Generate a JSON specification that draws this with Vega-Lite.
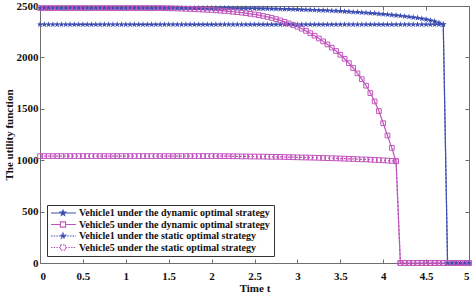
{
  "$schema": "https://vega.github.io/schema/vega-lite/v6.json",
  "width": 429,
  "height": 257,
  "autosize": {"type": "none"},
  "padding": {"left": 40, "top": 6, "right": 5, "bottom": 31},
  "background": "white",
  "config": {
    "font": "Liberation Serif",
    "view": {"stroke": "#6e6e6e"},
    "axis": {
      "grid": false,
      "domain": false,
      "labelFont": "Liberation Serif",
      "labelFontWeight": "bold",
      "labelFontSize": 11,
      "labelColor": "#111111",
      "titleFont": "Liberation Serif",
      "titleFontWeight": "bold",
      "titleFontSize": 11,
      "titleColor": "#111111",
      "tickColor": "#6e6e6e",
      "tickSize": -4
    }
  },
  "data": {
    "values": [
      {"t":0,"u":2480,"s":"v1d"},{"t":0.05,"u":2480,"s":"v1d"},{"t":0.1,"u":2480,"s":"v1d"},{"t":0.15,"u":2480,"s":"v1d"},{"t":0.2,"u":2480,"s":"v1d"},{"t":0.25,"u":2480,"s":"v1d"},{"t":0.3,"u":2480,"s":"v1d"},{"t":0.35,"u":2480,"s":"v1d"},{"t":0.4,"u":2480,"s":"v1d"},{"t":0.45,"u":2480,"s":"v1d"},
      {"t":0.5,"u":2480,"s":"v1d"},{"t":0.55,"u":2480,"s":"v1d"},{"t":0.6,"u":2480,"s":"v1d"},{"t":0.65,"u":2480,"s":"v1d"},{"t":0.7,"u":2480,"s":"v1d"},{"t":0.75,"u":2480,"s":"v1d"},{"t":0.8,"u":2480,"s":"v1d"},{"t":0.85,"u":2480,"s":"v1d"},{"t":0.9,"u":2480,"s":"v1d"},{"t":0.95,"u":2480,"s":"v1d"},
      {"t":1,"u":2480,"s":"v1d"},{"t":1.05,"u":2480,"s":"v1d"},{"t":1.1,"u":2480,"s":"v1d"},{"t":1.15,"u":2480,"s":"v1d"},{"t":1.2,"u":2480,"s":"v1d"},{"t":1.25,"u":2480,"s":"v1d"},{"t":1.3,"u":2480,"s":"v1d"},{"t":1.35,"u":2480,"s":"v1d"},{"t":1.4,"u":2480,"s":"v1d"},{"t":1.45,"u":2480,"s":"v1d"},
      {"t":1.5,"u":2480,"s":"v1d"},{"t":1.55,"u":2480,"s":"v1d"},{"t":1.6,"u":2480,"s":"v1d"},{"t":1.65,"u":2480,"s":"v1d"},{"t":1.7,"u":2480,"s":"v1d"},{"t":1.75,"u":2480,"s":"v1d"},{"t":1.8,"u":2480,"s":"v1d"},{"t":1.85,"u":2480,"s":"v1d"},{"t":1.9,"u":2480,"s":"v1d"},{"t":1.95,"u":2480,"s":"v1d"},
      {"t":2,"u":2480,"s":"v1d"},{"t":2.05,"u":2480,"s":"v1d"},{"t":2.1,"u":2479,"s":"v1d"},{"t":2.15,"u":2479,"s":"v1d"},{"t":2.2,"u":2479,"s":"v1d"},{"t":2.25,"u":2478,"s":"v1d"},{"t":2.3,"u":2478,"s":"v1d"},{"t":2.35,"u":2477,"s":"v1d"},{"t":2.4,"u":2477,"s":"v1d"},{"t":2.45,"u":2476,"s":"v1d"},
      {"t":2.5,"u":2476,"s":"v1d"},{"t":2.55,"u":2475,"s":"v1d"},{"t":2.6,"u":2475,"s":"v1d"},{"t":2.65,"u":2474,"s":"v1d"},{"t":2.7,"u":2473,"s":"v1d"},{"t":2.75,"u":2472,"s":"v1d"},{"t":2.8,"u":2471,"s":"v1d"},{"t":2.85,"u":2470,"s":"v1d"},{"t":2.9,"u":2469,"s":"v1d"},{"t":2.95,"u":2468,"s":"v1d"},
      {"t":3,"u":2467,"s":"v1d"},{"t":3.05,"u":2465,"s":"v1d"},{"t":3.1,"u":2464,"s":"v1d"},{"t":3.15,"u":2462,"s":"v1d"},{"t":3.2,"u":2461,"s":"v1d"},{"t":3.25,"u":2459,"s":"v1d"},{"t":3.3,"u":2458,"s":"v1d"},{"t":3.35,"u":2456,"s":"v1d"},{"t":3.4,"u":2454,"s":"v1d"},{"t":3.45,"u":2452,"s":"v1d"},
      {"t":3.5,"u":2450,"s":"v1d"},{"t":3.55,"u":2447,"s":"v1d"},{"t":3.6,"u":2445,"s":"v1d"},{"t":3.65,"u":2442,"s":"v1d"},{"t":3.7,"u":2440,"s":"v1d"},{"t":3.75,"u":2437,"s":"v1d"},{"t":3.8,"u":2434,"s":"v1d"},{"t":3.85,"u":2431,"s":"v1d"},{"t":3.9,"u":2428,"s":"v1d"},{"t":3.95,"u":2424,"s":"v1d"},
      {"t":4,"u":2421,"s":"v1d"},{"t":4.05,"u":2417,"s":"v1d"},{"t":4.1,"u":2413,"s":"v1d"},{"t":4.15,"u":2409,"s":"v1d"},{"t":4.2,"u":2405,"s":"v1d"},{"t":4.25,"u":2400,"s":"v1d"},{"t":4.3,"u":2395,"s":"v1d"},{"t":4.35,"u":2390,"s":"v1d"},{"t":4.4,"u":2384,"s":"v1d"},{"t":4.45,"u":2377,"s":"v1d"},
      {"t":4.5,"u":2370,"s":"v1d"},{"t":4.55,"u":2361,"s":"v1d"},{"t":4.6,"u":2350,"s":"v1d"},{"t":4.65,"u":2337,"s":"v1d"},{"t":4.7,"u":2322,"s":"v1d"},{"t":4.75,"u":0,"s":"v1d"},{"t":4.8,"u":0,"s":"v1d"},{"t":4.85,"u":0,"s":"v1d"},{"t":4.9,"u":0,"s":"v1d"},{"t":4.95,"u":0,"s":"v1d"},
      {"t":5,"u":0,"s":"v1d"},

      {"t":0,"u":2480,"s":"v5d"},{"t":0.05,"u":2480,"s":"v5d"},{"t":0.1,"u":2480,"s":"v5d"},{"t":0.15,"u":2480,"s":"v5d"},{"t":0.2,"u":2480,"s":"v5d"},{"t":0.25,"u":2480,"s":"v5d"},{"t":0.3,"u":2480,"s":"v5d"},{"t":0.35,"u":2480,"s":"v5d"},{"t":0.4,"u":2480,"s":"v5d"},{"t":0.45,"u":2480,"s":"v5d"},
      {"t":0.5,"u":2480,"s":"v5d"},{"t":0.55,"u":2480,"s":"v5d"},{"t":0.6,"u":2480,"s":"v5d"},{"t":0.65,"u":2480,"s":"v5d"},{"t":0.7,"u":2480,"s":"v5d"},{"t":0.75,"u":2480,"s":"v5d"},{"t":0.8,"u":2480,"s":"v5d"},{"t":0.85,"u":2480,"s":"v5d"},{"t":0.9,"u":2480,"s":"v5d"},{"t":0.95,"u":2480,"s":"v5d"},
      {"t":1,"u":2480,"s":"v5d"},{"t":1.05,"u":2480,"s":"v5d"},{"t":1.1,"u":2480,"s":"v5d"},{"t":1.15,"u":2480,"s":"v5d"},{"t":1.2,"u":2480,"s":"v5d"},{"t":1.25,"u":2480,"s":"v5d"},{"t":1.3,"u":2480,"s":"v5d"},{"t":1.35,"u":2480,"s":"v5d"},{"t":1.4,"u":2480,"s":"v5d"},{"t":1.45,"u":2479,"s":"v5d"},
      {"t":1.5,"u":2478,"s":"v5d"},{"t":1.55,"u":2477,"s":"v5d"},{"t":1.6,"u":2476,"s":"v5d"},{"t":1.65,"u":2474,"s":"v5d"},{"t":1.7,"u":2473,"s":"v5d"},{"t":1.75,"u":2471,"s":"v5d"},{"t":1.8,"u":2469,"s":"v5d"},{"t":1.85,"u":2467,"s":"v5d"},{"t":1.9,"u":2465,"s":"v5d"},{"t":1.95,"u":2463,"s":"v5d"},
      {"t":2,"u":2461,"s":"v5d"},{"t":2.05,"u":2458,"s":"v5d"},{"t":2.1,"u":2455,"s":"v5d"},{"t":2.15,"u":2452,"s":"v5d"},{"t":2.2,"u":2448,"s":"v5d"},{"t":2.25,"u":2444,"s":"v5d"},{"t":2.3,"u":2440,"s":"v5d"},{"t":2.35,"u":2435,"s":"v5d"},{"t":2.4,"u":2430,"s":"v5d"},{"t":2.45,"u":2424,"s":"v5d"},
      {"t":2.5,"u":2418,"s":"v5d"},{"t":2.55,"u":2411,"s":"v5d"},{"t":2.6,"u":2403,"s":"v5d"},{"t":2.65,"u":2394,"s":"v5d"},{"t":2.7,"u":2384,"s":"v5d"},{"t":2.75,"u":2373,"s":"v5d"},{"t":2.8,"u":2360,"s":"v5d"},{"t":2.85,"u":2346,"s":"v5d"},{"t":2.9,"u":2331,"s":"v5d"},{"t":2.95,"u":2315,"s":"v5d"},
      {"t":3,"u":2298,"s":"v5d"},{"t":3.05,"u":2279,"s":"v5d"},{"t":3.1,"u":2258,"s":"v5d"},{"t":3.15,"u":2235,"s":"v5d"},{"t":3.2,"u":2211,"s":"v5d"},{"t":3.25,"u":2184,"s":"v5d"},{"t":3.3,"u":2156,"s":"v5d"},{"t":3.35,"u":2126,"s":"v5d"},{"t":3.4,"u":2095,"s":"v5d"},{"t":3.45,"u":2062,"s":"v5d"},
      {"t":3.5,"u":2026,"s":"v5d"},{"t":3.55,"u":1987,"s":"v5d"},{"t":3.6,"u":1944,"s":"v5d"},{"t":3.65,"u":1897,"s":"v5d"},{"t":3.7,"u":1845,"s":"v5d"},{"t":3.75,"u":1788,"s":"v5d"},{"t":3.8,"u":1725,"s":"v5d"},{"t":3.85,"u":1653,"s":"v5d"},{"t":3.9,"u":1572,"s":"v5d"},{"t":3.95,"u":1478,"s":"v5d"},
      {"t":4,"u":1360,"s":"v5d"},{"t":4.05,"u":1240,"s":"v5d"},{"t":4.1,"u":1120,"s":"v5d"},{"t":4.15,"u":990,"s":"v5d"},{"t":4.2,"u":0,"s":"v5d"},{"t":4.25,"u":0,"s":"v5d"},{"t":4.3,"u":0,"s":"v5d"},{"t":4.35,"u":0,"s":"v5d"},{"t":4.4,"u":0,"s":"v5d"},{"t":4.45,"u":0,"s":"v5d"},
      {"t":4.5,"u":0,"s":"v5d"},{"t":4.55,"u":0,"s":"v5d"},{"t":4.6,"u":0,"s":"v5d"},{"t":4.65,"u":0,"s":"v5d"},{"t":4.7,"u":0,"s":"v5d"},{"t":4.75,"u":0,"s":"v5d"},{"t":4.8,"u":0,"s":"v5d"},{"t":4.85,"u":0,"s":"v5d"},{"t":4.9,"u":0,"s":"v5d"},{"t":4.95,"u":0,"s":"v5d"},
      {"t":5,"u":0,"s":"v5d"},

      {"t":0,"u":2320,"s":"v1s"},{"t":0.05,"u":2320,"s":"v1s"},{"t":0.1,"u":2320,"s":"v1s"},{"t":0.15,"u":2320,"s":"v1s"},{"t":0.2,"u":2320,"s":"v1s"},{"t":0.25,"u":2320,"s":"v1s"},{"t":0.3,"u":2320,"s":"v1s"},{"t":0.35,"u":2320,"s":"v1s"},{"t":0.4,"u":2320,"s":"v1s"},{"t":0.45,"u":2320,"s":"v1s"},
      {"t":0.5,"u":2320,"s":"v1s"},{"t":0.55,"u":2320,"s":"v1s"},{"t":0.6,"u":2320,"s":"v1s"},{"t":0.65,"u":2320,"s":"v1s"},{"t":0.7,"u":2320,"s":"v1s"},{"t":0.75,"u":2320,"s":"v1s"},{"t":0.8,"u":2320,"s":"v1s"},{"t":0.85,"u":2320,"s":"v1s"},{"t":0.9,"u":2320,"s":"v1s"},{"t":0.95,"u":2320,"s":"v1s"},
      {"t":1,"u":2320,"s":"v1s"},{"t":1.05,"u":2320,"s":"v1s"},{"t":1.1,"u":2320,"s":"v1s"},{"t":1.15,"u":2320,"s":"v1s"},{"t":1.2,"u":2320,"s":"v1s"},{"t":1.25,"u":2320,"s":"v1s"},{"t":1.3,"u":2320,"s":"v1s"},{"t":1.35,"u":2320,"s":"v1s"},{"t":1.4,"u":2320,"s":"v1s"},{"t":1.45,"u":2320,"s":"v1s"},
      {"t":1.5,"u":2320,"s":"v1s"},{"t":1.55,"u":2320,"s":"v1s"},{"t":1.6,"u":2320,"s":"v1s"},{"t":1.65,"u":2320,"s":"v1s"},{"t":1.7,"u":2320,"s":"v1s"},{"t":1.75,"u":2320,"s":"v1s"},{"t":1.8,"u":2320,"s":"v1s"},{"t":1.85,"u":2320,"s":"v1s"},{"t":1.9,"u":2320,"s":"v1s"},{"t":1.95,"u":2320,"s":"v1s"},
      {"t":2,"u":2320,"s":"v1s"},{"t":2.05,"u":2320,"s":"v1s"},{"t":2.1,"u":2320,"s":"v1s"},{"t":2.15,"u":2320,"s":"v1s"},{"t":2.2,"u":2320,"s":"v1s"},{"t":2.25,"u":2320,"s":"v1s"},{"t":2.3,"u":2320,"s":"v1s"},{"t":2.35,"u":2320,"s":"v1s"},{"t":2.4,"u":2320,"s":"v1s"},{"t":2.45,"u":2320,"s":"v1s"},
      {"t":2.5,"u":2320,"s":"v1s"},{"t":2.55,"u":2320,"s":"v1s"},{"t":2.6,"u":2320,"s":"v1s"},{"t":2.65,"u":2320,"s":"v1s"},{"t":2.7,"u":2320,"s":"v1s"},{"t":2.75,"u":2320,"s":"v1s"},{"t":2.8,"u":2320,"s":"v1s"},{"t":2.85,"u":2320,"s":"v1s"},{"t":2.9,"u":2320,"s":"v1s"},{"t":2.95,"u":2320,"s":"v1s"},
      {"t":3,"u":2320,"s":"v1s"},{"t":3.05,"u":2320,"s":"v1s"},{"t":3.1,"u":2320,"s":"v1s"},{"t":3.15,"u":2320,"s":"v1s"},{"t":3.2,"u":2320,"s":"v1s"},{"t":3.25,"u":2320,"s":"v1s"},{"t":3.3,"u":2320,"s":"v1s"},{"t":3.35,"u":2320,"s":"v1s"},{"t":3.4,"u":2320,"s":"v1s"},{"t":3.45,"u":2320,"s":"v1s"},
      {"t":3.5,"u":2320,"s":"v1s"},{"t":3.55,"u":2320,"s":"v1s"},{"t":3.6,"u":2320,"s":"v1s"},{"t":3.65,"u":2320,"s":"v1s"},{"t":3.7,"u":2320,"s":"v1s"},{"t":3.75,"u":2320,"s":"v1s"},{"t":3.8,"u":2320,"s":"v1s"},{"t":3.85,"u":2320,"s":"v1s"},{"t":3.9,"u":2320,"s":"v1s"},{"t":3.95,"u":2320,"s":"v1s"},
      {"t":4,"u":2320,"s":"v1s"},{"t":4.05,"u":2320,"s":"v1s"},{"t":4.1,"u":2320,"s":"v1s"},{"t":4.15,"u":2320,"s":"v1s"},{"t":4.2,"u":2320,"s":"v1s"},{"t":4.25,"u":2320,"s":"v1s"},{"t":4.3,"u":2320,"s":"v1s"},{"t":4.35,"u":2320,"s":"v1s"},{"t":4.4,"u":2320,"s":"v1s"},{"t":4.45,"u":2320,"s":"v1s"},
      {"t":4.5,"u":2320,"s":"v1s"},{"t":4.55,"u":2320,"s":"v1s"},{"t":4.6,"u":2320,"s":"v1s"},{"t":4.65,"u":2320,"s":"v1s"},{"t":4.7,"u":2320,"s":"v1s"},{"t":4.75,"u":0,"s":"v1s"},{"t":4.8,"u":0,"s":"v1s"},{"t":4.85,"u":0,"s":"v1s"},{"t":4.9,"u":0,"s":"v1s"},{"t":4.95,"u":0,"s":"v1s"},
      {"t":5,"u":0,"s":"v1s"},

      {"t":0,"u":1040,"s":"v5s"},{"t":0.05,"u":1040,"s":"v5s"},{"t":0.1,"u":1040,"s":"v5s"},{"t":0.15,"u":1040,"s":"v5s"},{"t":0.2,"u":1040,"s":"v5s"},{"t":0.25,"u":1040,"s":"v5s"},{"t":0.3,"u":1040,"s":"v5s"},{"t":0.35,"u":1040,"s":"v5s"},{"t":0.4,"u":1040,"s":"v5s"},{"t":0.45,"u":1040,"s":"v5s"},
      {"t":0.5,"u":1040,"s":"v5s"},{"t":0.55,"u":1040,"s":"v5s"},{"t":0.6,"u":1040,"s":"v5s"},{"t":0.65,"u":1040,"s":"v5s"},{"t":0.7,"u":1040,"s":"v5s"},{"t":0.75,"u":1040,"s":"v5s"},{"t":0.8,"u":1040,"s":"v5s"},{"t":0.85,"u":1040,"s":"v5s"},{"t":0.9,"u":1040,"s":"v5s"},{"t":0.95,"u":1040,"s":"v5s"},
      {"t":1,"u":1040,"s":"v5s"},{"t":1.05,"u":1040,"s":"v5s"},{"t":1.1,"u":1040,"s":"v5s"},{"t":1.15,"u":1040,"s":"v5s"},{"t":1.2,"u":1040,"s":"v5s"},{"t":1.25,"u":1040,"s":"v5s"},{"t":1.3,"u":1040,"s":"v5s"},{"t":1.35,"u":1040,"s":"v5s"},{"t":1.4,"u":1040,"s":"v5s"},{"t":1.45,"u":1040,"s":"v5s"},
      {"t":1.5,"u":1040,"s":"v5s"},{"t":1.55,"u":1040,"s":"v5s"},{"t":1.6,"u":1040,"s":"v5s"},{"t":1.65,"u":1040,"s":"v5s"},{"t":1.7,"u":1040,"s":"v5s"},{"t":1.75,"u":1040,"s":"v5s"},{"t":1.8,"u":1040,"s":"v5s"},{"t":1.85,"u":1040,"s":"v5s"},{"t":1.9,"u":1040,"s":"v5s"},{"t":1.95,"u":1040,"s":"v5s"},
      {"t":2,"u":1040,"s":"v5s"},{"t":2.05,"u":1040,"s":"v5s"},{"t":2.1,"u":1039,"s":"v5s"},{"t":2.15,"u":1039,"s":"v5s"},{"t":2.2,"u":1039,"s":"v5s"},{"t":2.25,"u":1038,"s":"v5s"},{"t":2.3,"u":1038,"s":"v5s"},{"t":2.35,"u":1037,"s":"v5s"},{"t":2.4,"u":1037,"s":"v5s"},{"t":2.45,"u":1036,"s":"v5s"},
      {"t":2.5,"u":1036,"s":"v5s"},{"t":2.55,"u":1035,"s":"v5s"},{"t":2.6,"u":1035,"s":"v5s"},{"t":2.65,"u":1034,"s":"v5s"},{"t":2.7,"u":1033,"s":"v5s"},{"t":2.75,"u":1033,"s":"v5s"},{"t":2.8,"u":1032,"s":"v5s"},{"t":2.85,"u":1031,"s":"v5s"},{"t":2.9,"u":1030,"s":"v5s"},{"t":2.95,"u":1029,"s":"v5s"},
      {"t":3,"u":1028,"s":"v5s"},{"t":3.05,"u":1027,"s":"v5s"},{"t":3.1,"u":1026,"s":"v5s"},{"t":3.15,"u":1025,"s":"v5s"},{"t":3.2,"u":1024,"s":"v5s"},{"t":3.25,"u":1023,"s":"v5s"},{"t":3.3,"u":1022,"s":"v5s"},{"t":3.35,"u":1020,"s":"v5s"},{"t":3.4,"u":1019,"s":"v5s"},{"t":3.45,"u":1018,"s":"v5s"},
      {"t":3.5,"u":1016,"s":"v5s"},{"t":3.55,"u":1015,"s":"v5s"},{"t":3.6,"u":1013,"s":"v5s"},{"t":3.65,"u":1012,"s":"v5s"},{"t":3.7,"u":1010,"s":"v5s"},{"t":3.75,"u":1008,"s":"v5s"},{"t":3.8,"u":1007,"s":"v5s"},{"t":3.85,"u":1005,"s":"v5s"},{"t":3.9,"u":1003,"s":"v5s"},{"t":3.95,"u":1001,"s":"v5s"},
      {"t":4,"u":999,"s":"v5s"},{"t":4.05,"u":996,"s":"v5s"},{"t":4.1,"u":993,"s":"v5s"},{"t":4.15,"u":990,"s":"v5s"},{"t":4.2,"u":0,"s":"v5s"},{"t":4.25,"u":0,"s":"v5s"},{"t":4.3,"u":0,"s":"v5s"},{"t":4.35,"u":0,"s":"v5s"},{"t":4.4,"u":0,"s":"v5s"},{"t":4.45,"u":0,"s":"v5s"},
      {"t":4.5,"u":0,"s":"v5s"},{"t":4.55,"u":0,"s":"v5s"},{"t":4.6,"u":0,"s":"v5s"},{"t":4.65,"u":0,"s":"v5s"},{"t":4.7,"u":0,"s":"v5s"},{"t":4.75,"u":0,"s":"v5s"},{"t":4.8,"u":0,"s":"v5s"},{"t":4.85,"u":0,"s":"v5s"},{"t":4.9,"u":0,"s":"v5s"},{"t":4.95,"u":0,"s":"v5s"},
      {"t":5,"u":0,"s":"v5s"}
    ]
  },
  "layer": [
    {
      "transform": [{"filter": {"field": "s", "oneOf": ["v1d", "v5d"]}}],
      "mark": {"type": "line", "strokeWidth": 1.2},
      "encoding": {
        "x": {
          "field": "t", "type": "quantitative",
          "scale": {"domain": [0, 5], "nice": false, "zero": false},
          "axis": {"orient": "bottom", "title": "Time t", "values": [0, 0.5, 1, 1.5, 2, 2.5, 3, 3.5, 4, 4.5, 5], "format": "~g", "labelPadding": 11, "titlePadding": 1}
        },
        "y": {
          "field": "u", "type": "quantitative",
          "scale": {"domain": [0, 2500], "nice": false},
          "axis": {"orient": "left", "title": "The utility function", "values": [0, 500, 1000, 1500, 2000, 2500], "format": "d", "labelPadding": 6, "titlePadding": 2}
        },
        "color": {
          "field": "s", "type": "nominal",
          "scale": {"domain": ["v1d", "v5d", "v1s", "v5s"], "range": ["#3d4fb2", "#c055bd", "#3d4fb2", "#c055bd"]},
          "legend": {
            "title": null,
            "orient": "bottom-left",
            "offset": 7,
            "padding": 3,
            "fillColor": "white",
            "strokeColor": "#333333",
            "labelLimit": 400,
            "labelFont": "Liberation Serif",
            "labelFontWeight": "bold",
            "labelFontSize": 10,
            "labelColor": "#111111",
            "labelOffset": 19,
            "rowPadding": 1.5,
            "symbolSize": 64,
            "labelExpr": "datum.value === 'v1d' ? 'Vehicle1 under the dynamic optimal strategy' : datum.value === 'v5d' ? 'Vehicle5 under the dynamic optimal strategy' : datum.value === 'v1s' ? 'Vehicle1 under the static optimal strategy' : 'Vehicle5 under the static optimal strategy'",
            "encode": {
              "symbols": {
                "update": {
                  "shape": {"signal": "datum.value === 'v1d' || datum.value === 'v1s' ? 'M-1,0L5.25,0M2,-0.7L2.165,-0.24L2.666,-0.216L2.266,0.087L2.412,0.566L2,0.28L1.588,0.566L1.734,0.087L1.334,-0.216L1.835,-0.24Z' : 'M-1,0L1.35,0M1.35,-0.65L2.65,-0.65L2.65,0.65L1.35,0.65ZM2.65,0L5.25,0'"},
                  "fill": {"signal": "datum.value === 'v1d' || datum.value === 'v1s' ? '#3d4fb2' : 'transparent'"},
                  "stroke": {"signal": "datum.value === 'v1d' || datum.value === 'v1s' ? '#3d4fb2' : '#c055bd'"},
                  "strokeDash": {"signal": "datum.value === 'v1s' || datum.value === 'v5s' ? [1.5, 1.2] : [1, 0]"},
                  "strokeWidth": {"value": 1.1},
                  "opacity": {"value": 1}
                }
              }
            }
          }
        }
      }
    },
    {
      "transform": [{"filter": {"field": "s", "oneOf": ["v1s", "v5s"]}}],
      "mark": {"type": "line", "strokeWidth": 1.2, "strokeDash": [2, 2]},
      "encoding": {
        "x": {"field": "t", "type": "quantitative", "axis": null},
        "y": {"field": "u", "type": "quantitative", "axis": null},
        "color": {"field": "s", "type": "nominal"}
      }
    },
    {
      "transform": [{"filter": {"field": "s", "oneOf": ["v1d", "v1s"]}}],
      "mark": {"type": "point", "shape": "M0,-1L0.235,-0.324L0.951,-0.309L0.38,0.124L0.588,0.809L0,0.4L-0.588,0.809L-0.38,0.124L-0.951,-0.309L-0.235,-0.324Z", "filled": true, "size": 44, "color": "#3d4fb2", "opacity": 1},
      "encoding": {
        "x": {"field": "t", "type": "quantitative", "axis": null},
        "y": {"field": "u", "type": "quantitative", "axis": null}
      }
    },
    {
      "transform": [{"filter": {"field": "s", "oneOf": ["v5d", "v5s"]}}],
      "mark": {"type": "point", "shape": "square", "filled": false, "size": 22, "strokeWidth": 1, "color": "#c055bd", "opacity": 1},
      "encoding": {
        "x": {"field": "t", "type": "quantitative", "axis": null},
        "y": {"field": "u", "type": "quantitative", "axis": null}
      }
    },
    {
      "mark": {"type": "line", "opacity": 0},
      "encoding": {
        "x": {"field": "t", "type": "quantitative", "axis": {"orient": "top", "labels": false, "title": null, "values": [0, 0.5, 1, 1.5, 2, 2.5, 3, 3.5, 4, 4.5, 5]}},
        "y": {"field": "u", "type": "quantitative", "axis": {"orient": "right", "labels": false, "title": null, "values": [0, 500, 1000, 1500, 2000, 2500]}},
        "detail": {"field": "s", "type": "nominal"}
      }
    }
  ],
  "resolve": {"axis": {"x": "independent", "y": "independent"}}
}
